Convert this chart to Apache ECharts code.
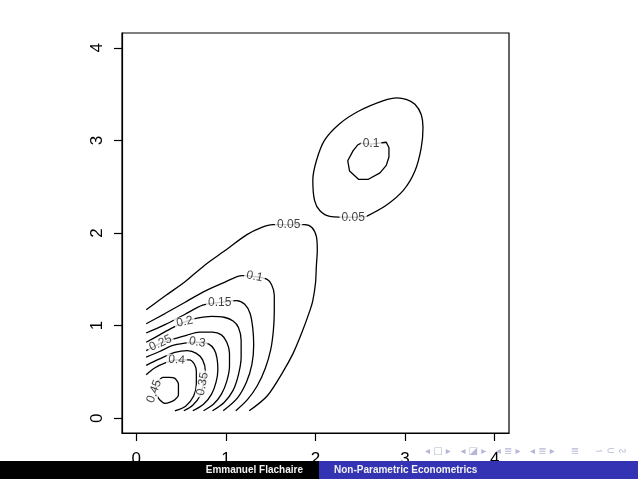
<!DOCTYPE html>
<html>
<head>
<meta charset="utf-8">
<script src="https://cdn.jsdelivr.net/npm/echarts@6/dist/echarts.min.js"></script>
<style>
html,body{margin:0;padding:0;background:#fff;}
#chart{width:638px;height:479px;}
</style>
</head>
<body>
<div id="chart"></div>
<script>
// ---- tick labels ----
const xTicks = [0, 1, 2, 3, 4];
const yTicks = [0, 1, 2, 3, 4];

// ---- contour lines (x, y) ----
const c005Low = [[0.11,1.17],[0.32,1.32],[0.54,1.47],[0.76,1.65],[0.99,1.81],[1.23,1.98],[1.40,2.06],[1.52,2.09],[1.70,2.09],[1.88,2.09],[1.96,2.06],[2.01,1.96],[2.02,1.81],[2.01,1.65],[2.00,1.46],[1.97,1.27],[1.94,1.17],[1.85,0.93],[1.75,0.70],[1.63,0.49],[1.46,0.24],[1.26,0.08]];
const c010Low = [[0.11,1.02],[0.32,1.13],[0.54,1.25],[0.76,1.37],[0.99,1.47],[1.18,1.54],[1.32,1.53],[1.46,1.50],[1.51,1.44],[1.54,1.33],[1.54,1.16],[1.53,0.95],[1.50,0.74],[1.44,0.54],[1.35,0.35],[1.24,0.20],[1.11,0.08]];
const c015 = [[0.11,0.92],[0.32,1.01],[0.54,1.12],[0.74,1.22],[0.93,1.25],[1.12,1.27],[1.21,1.23],[1.27,1.13],[1.30,0.97],[1.31,0.79],[1.29,0.58],[1.23,0.39],[1.13,0.22],[0.97,0.08]];
const c020 = [[0.11,0.82],[0.26,0.90],[0.39,0.97],[0.54,1.04],[0.68,1.08],[0.84,1.10],[0.98,1.09],[1.08,1.05],[1.14,0.98],[1.17,0.84],[1.17,0.66],[1.14,0.47],[1.08,0.30],[0.98,0.17],[0.85,0.08]];
const c025 = [[0.11,0.73],[0.17,0.76],[0.27,0.81],[0.40,0.85],[0.54,0.89],[0.71,0.93],[0.85,0.93],[0.95,0.90],[1.01,0.82],[1.04,0.70],[1.04,0.56],[1.01,0.40],[0.95,0.26],[0.86,0.15],[0.75,0.08]];
const c030 = [[0.11,0.66],[0.26,0.72],[0.39,0.78],[0.54,0.81],[0.68,0.82],[0.81,0.80],[0.87,0.74],[0.90,0.65],[0.91,0.52],[0.89,0.39],[0.84,0.26],[0.75,0.15],[0.63,0.08]];
const c035 = [[0.11,0.57],[0.26,0.64],[0.43,0.71],[0.57,0.73],[0.67,0.70],[0.74,0.63],[0.77,0.51],[0.75,0.37],[0.71,0.24],[0.63,0.14],[0.53,0.08]];
const c040 = [[0.11,0.47],[0.20,0.54],[0.33,0.60],[0.45,0.63],[0.59,0.63],[0.65,0.58],[0.67,0.50],[0.67,0.37],[0.64,0.24],[0.55,0.13],[0.43,0.08]];
const c045 = [[0.29,0.44],[0.37,0.44],[0.43,0.43],[0.47,0.37],[0.47,0.30],[0.47,0.25],[0.43,0.20],[0.37,0.17],[0.32,0.16],[0.26,0.20],[0.23,0.24],[0.20,0.29],[0.22,0.36],[0.24,0.40],[0.29,0.44]];
const c005Up = [[2.57,2.18],[2.79,2.30],[2.98,2.46],[3.11,2.67],[3.18,2.92],[3.20,3.14],[3.18,3.28],[3.11,3.39],[3.02,3.44],[2.91,3.46],[2.76,3.43],[2.49,3.32],[2.27,3.18],[2.10,3.00],[2.01,2.78],[1.97,2.57],[1.99,2.35],[2.05,2.24],[2.16,2.18],[2.42,2.17],[2.57,2.18]];
const c010Up = [[2.51,2.97],[2.62,2.96],[2.79,2.98],[2.82,2.92],[2.82,2.82],[2.79,2.73],[2.72,2.65],[2.59,2.58],[2.48,2.58],[2.38,2.67],[2.36,2.78],[2.42,2.89],[2.47,2.95],[2.51,2.97]];

// ---- contour labels ----
const labelText  = ['0.05', '0.1', '0.15', '0.2', '0.25', '0.3', '0.35', '0.4', '0.45', '0.1', '0.05'];
const labelPos   = [[1.70,2.09],[1.32,1.53],[0.93,1.25],[0.54,1.04],[0.27,0.81],[0.68,0.82],[0.74,0.37],[0.45,0.63],[0.20,0.29],[2.62,2.96],[2.42,2.17]];
const labelAngle = [0, -12, 0, 12, 25, -10, 80, -5, 70, 0, 0];

const contours = [
  {data: c005Low, smooth: 0.3}, {data: c010Low, smooth: 0.3}, {data: c015, smooth: 0.3},
  {data: c020, smooth: 0.3}, {data: c025, smooth: 0.3}, {data: c030, smooth: 0.3},
  {data: c035, smooth: 0.3}, {data: c040, smooth: 0.3}, {data: c045, smooth: 0.2},
  {data: c005Up, smooth: 0.3}, {data: c010Up, smooth: 0}
];

const FONT = '"Liberation Sans", Arial, Helvetica, sans-serif';
const chart = echarts.init(document.getElementById('chart'), null, {renderer: 'canvas'});

const series = contours.map(c => ({
  type: 'line',
  data: c.data,
  smooth: c.smooth,
  showSymbol: false,
  symbol: 'none',
  silent: true,
  animation: false,
  lineStyle: {color: '#000', width: 1.3},
  z: 2
}));

series.push({
  type: 'scatter',
  symbolSize: 0,
  silent: true,
  animation: false,
  z: 5,
  data: labelPos.map((p, i) => ({
    value: p,
    name: labelText[i],
    label: {rotate: labelAngle[i]}
  })),
  label: {
    show: true,
    position: 'inside',
    formatter: p => p.name,
    fontFamily: FONT,
    fontSize: 12,
    color: '#111',
    backgroundColor: '#fff',
    padding: [0, 2],
    lineHeight: 11
  }
});

const option = {
  backgroundColor: '#fff',
  animation: false,
  grid: {left: 122, top: 33, width: 387, height: 400, show: true, borderColor: '#000', borderWidth: 1.2, backgroundColor: 'transparent'},
  xAxis: {
    type: 'value', min: -0.16, max: 4.16,
    axisLine: {show: true, onZero: false, lineStyle: {color: '#000', width: 1.2}},
    axisTick: {show: true, customValues: xTicks, length: 8, lineStyle: {color: '#000', width: 1.2}},
    axisLabel: {customValues: xTicks, fontFamily: FONT, fontSize: 17, color: '#000', margin: 18},
    splitLine: {show: false}
  },
  yAxis: {
    type: 'value', min: -0.16, max: 4.16,
    axisLine: {show: true, onZero: false, lineStyle: {color: '#000', width: 1.2}},
    axisTick: {show: true, customValues: yTicks, length: 8, lineStyle: {color: '#000', width: 1.2}},
    axisLabel: {customValues: yTicks, fontFamily: FONT, fontSize: 17, color: '#000', margin: 16, rotate: 90},
    splitLine: {show: false}
  },
  graphic: [
    {type: 'rect', left: 0, top: 461, shape: {width: 319, height: 18}, style: {fill: '#000'}, z: 100},
    {type: 'rect', left: 319, top: 461, shape: {width: 319, height: 18}, style: {fill: '#3333b3'}, z: 100},
    {type: 'text', x: 303, y: 470, style: {text: 'Emmanuel Flachaire', fill: '#f2f2f2', font: 'bold 10px ' + FONT, align: 'right', verticalAlign: 'middle'}, z: 101},
    {type: 'text', x: 334, y: 470, style: {text: 'Non-Parametric Econometrics', fill: '#f2f2f2', font: 'bold 10px ' + FONT, align: 'left', verticalAlign: 'middle'}, z: 101},
    {type: 'text', x: 425, y: 451, style: {text: '◂ □ ▸   ◂ ◪ ▸   ◂ ≣ ▸   ◂ ≣ ▸     ≣     ∽ ⊂ ∾', fill: '#b4b8d6', font: '10px "DejaVu Sans"', align: 'left', verticalAlign: 'middle'}, z: 101}
  ],
  series: series
};
chart.setOption(option);
</script>
</body>
</html>
